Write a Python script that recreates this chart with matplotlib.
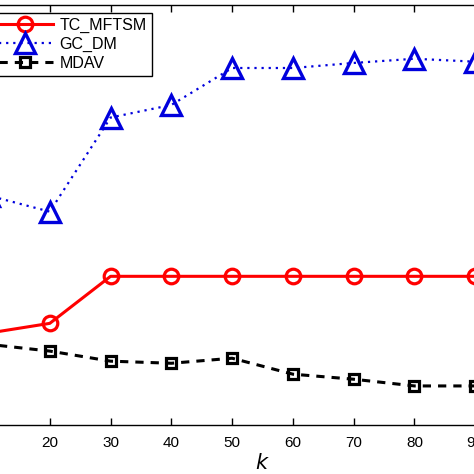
import matplotlib
matplotlib.use('Agg')
import matplotlib.pyplot as plt

plt.rcParams['font.family'] = ['Liberation Sans', 'DejaVu Sans']

k = [10, 20, 30, 40, 50, 60, 70, 80, 90]
tc_mftsm = [0.219, 0.242, 0.354, 0.354, 0.354, 0.354, 0.354, 0.354, 0.354]
gc_dm = [0.546, 0.508, 0.732, 0.762, 0.850, 0.850, 0.862, 0.872, 0.865]
mdav = [0.192, 0.176, 0.152, 0.147, 0.159, 0.121, 0.109, 0.093, 0.093]
xticks = [10, 20, 30, 40, 50, 60, 70, 80, 90, 100]

W = 474
fig = plt.figure(figsize=(4.74, 4.74), dpi=100)
# axes is larger than the visible area (the reference is a crop)
ax = fig.add_axes([-11 / W, 49 / W, 547 / W, 420 / W])

ax.plot(k, tc_mftsm, '-', color='#ff0000', lw=2.2, marker='o', ms=10.5,
        mfc='none', mec='#ff0000', mew=2.3, label='TC_MFTSM')
ax.plot(k, gc_dm, ':', color='#0000dd', lw=1.6, marker='^', ms=14.5,
        mfc='none', mec='#0000dd', mew=2.4, dashes=(1, 2.2), label='GC_DM')
ax.plot(k, mdav, '--', color='black', lw=2.2, marker='s', ms=7.5,
        mfc='none', mec='black', mew=2.3, dashes=(2.7, 2.3), label='MDAV')

ax.set_xlim(10, 100)
ax.set_ylim(0, 1)
ax.set_xticks(xticks)
ax.set_yticks([])
ax.tick_params(axis='x', direction='in', top=True, length=5, width=1,
               labelsize=11, pad=8)
for s in ax.spines.values():
    s.set_linewidth(1.0)
ax.set_xlabel('$k$', fontsize=15, labelpad=2)

leg = ax.legend(loc='upper left', bbox_to_anchor=(-9 / W, 1 - 13 / W),
                bbox_transform=fig.transFigure, fontsize=11.5,
                borderaxespad=0, handlelength=3.6, handletextpad=0.4,
                labelspacing=0.25, borderpad=0.3, fancybox=False,
                framealpha=1, edgecolor='black')
leg.get_frame().set_linewidth(1.0)

plt.savefig('out.png', dpi=100)
